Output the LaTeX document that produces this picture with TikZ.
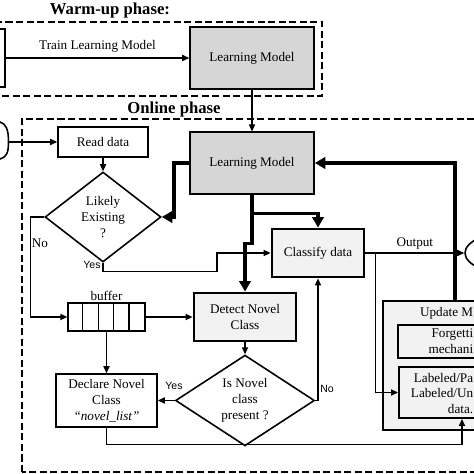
\documentclass[tikz,border=0pt]{standalone}
\usepackage{fontspec}
\setmainfont{Liberation Serif}
\newfontfamily\ynfont{Liberation Sans}
\usetikzlibrary{arrows.meta,shapes.geometric,positioning}

\begin{document}
\begin{tikzpicture}[
    blk/.style={draw, line width=0.9pt, align=center, font=\fontsize{7.5}{9}\selectfont, fill=white, inner sep=1pt},
    lm/.style={blk, fill=black!16, minimum width=2.48cm, minimum height=1.23cm},
    proc/.style={blk, fill=black!5, line width=1.6pt},
    test/.style={diamond, draw, line width=0.9pt, align=center, font=\fontsize{7.5}{9}\selectfont, inner sep=0pt},
    arr/.style={-{Triangle[length=4pt,width=3.5pt]}, line width=0.7pt},
    tarr/.style={-{Triangle[length=6pt,width=6.5pt]}, line width=2pt},
    wire/.style={line width=0.9pt},
    phase/.style={draw, dash pattern=on 1.4mm off 0.7mm, line width=1.1pt},
    ttl/.style={font=\bfseries\fontsize{9.5}{11}\selectfont},
    yn/.style={font=\ynfont\fontsize{6}{7}\selectfont, inner sep=1pt},
    lbl/.style={font=\fontsize{7.5}{9}\selectfont, inner sep=1pt},
    edge/.style={lbl, align=right, anchor=east, inner sep=0pt}
]
\useasboundingbox (0,0) rectangle (9.48,9.48);
\clip (0,0) rectangle (9.48,9.48);

% phases
\draw[phase] (-0.3,7.56) rectangle (6.44,9.04);
\draw[phase] (0.44,0.04) rectangle (9.9,7.1);
\node[ttl] (wt) at (2.2,9.27) {Warm-up phase:};
\node[ttl] (ot) at (3.48,7.3) {Online phase};

% warm-up
\node[blk, minimum width=1.6cm, minimum height=1.16cm] (src) at (-0.7,8.32) {};
\node[lm] (lmw) at (5.04,8.32) {Learning Model};

% online
\draw[wire] (-0.5,7.04) -- (0.0,7.04) .. controls (0.12,7.0) and (0.17,6.9) .. (0.17,6.64)
    .. controls (0.17,6.4) and (0.12,6.34) .. (0.0,6.3) -- (-0.5,6.3);
\coordinate (inp) at (0.17,6.64);
\node[blk, minimum width=1.8cm, minimum height=0.6cm] (rd) at (2.06,6.64) {Read data};
\node[test, minimum width=2.32cm, minimum height=1.8cm] (le) at (2.06,5.14) {Likely\\Existing\\?};
\node[lm] (lmo) at (5.04,6.22) {Learning Model};
\node[proc, minimum width=1.84cm, minimum height=0.96cm] (cls) at (6.36,4.42) {Classify data};
\node[draw, line width=0.7pt, minimum width=1.54cm, minimum height=0.56cm, inner sep=0pt] (buf) at (2.13,3.14) {};
\foreach \i in {1,...,4}
  \draw[line width=0.7pt] ([xshift=\i*0.308cm]buf.north west) -- ([xshift=\i*0.308cm]buf.south west);
\node[lbl, above=0pt of buf] (bufl) {buffer};
\node[proc, minimum width=2.04cm, minimum height=0.96cm] (dnc) at (4.9,3.14) {Detect Novel\\Class};
\node[test, minimum width=2.78cm, minimum height=1.54cm] (isn) at (4.9,1.47) {Is Novel\\class\\present ?};
\node[blk, minimum width=2.02cm, minimum height=1.06cm] (dec) at (2.13,1.47) {Declare Novel\\Class\\{\itshape “novel\_list”}};
\node[proc, minimum width=3.4cm, minimum height=2.58cm] (upd) at (9.36,2.17) {};
\node[blk, fill=black!5, line width=1.1pt, minimum width=2.52cm, minimum height=0.66cm] (fgt) at (9.22,2.65) {};
\node[blk, fill=black!5, line width=1.1pt, minimum width=2.88cm, minimum height=1.02cm] (lab) at (9.42,1.63) {};
\node[ellipse, draw, line width=0.9pt, minimum width=2cm, minimum height=0.86cm] (out) at (10.3,4.42) {};
% texts running into the right edge
\node[edge] (updt) at (9.47,3.22) {Update M};
\node[edge] (fgtt) at (9.47,2.65) {Forgetti\\mechani};
\node[edge] (labt) at (9.47,1.61) {Labeled/Pa\\Labeled/Un\\data.};

% connectors
\draw[arr] (src) -- node[lbl, above=2pt] {Train Learning Model} (lmw);
\draw[arr] (lmw) -- (lmo);
\draw[arr] (inp) -- (rd);
\draw[arr] (rd) -- (le);
\draw[tarr] (lmo.west) -- ++(-0.3,0) |- (le.east);
\draw[arr] (le.west) -- ++(-0.28,0) |- (buf.west);
\draw[arr] (le.south) -- ++(0,-0.18) -- ++(2.28,0) |- (cls.west);
\draw[tarr] (lmo.south) -- ++(0,-0.38) -| (cls.north);
\draw[tarr] (lmo.south) -- ++(0,-0.98) -| (dnc.north);
\draw[arr] (buf) -- (dnc);
\draw[arr] (buf) -- (dec);
\draw[arr] (dnc) -- (isn);
\draw[arr] (isn) -- (dec);
\draw[arr] (isn.east) -| (cls.south);
\draw[arr] (dec.south) -- ++(0,-0.34) -| ([xshift=-0.18cm]lab.south);
\draw[arr] (cls) -- node[lbl, above=1pt] {Output} (out);
\draw[arr] (cls.east) -- ++(0.2,0) |- (lab.west);
\draw[tarr] ([xshift=-0.26cm]upd.north) |- (lmo.east);

\node[lbl] (no1) at (0.8,4.62) {No};
\node[yn] (yes1) at (1.84,4.18) {Yes};
\node[yn] (yes2) at (3.48,1.76) {Yes};
\node[yn] (no2) at (6.54,1.7) {No};
\end{tikzpicture}
\end{document}
